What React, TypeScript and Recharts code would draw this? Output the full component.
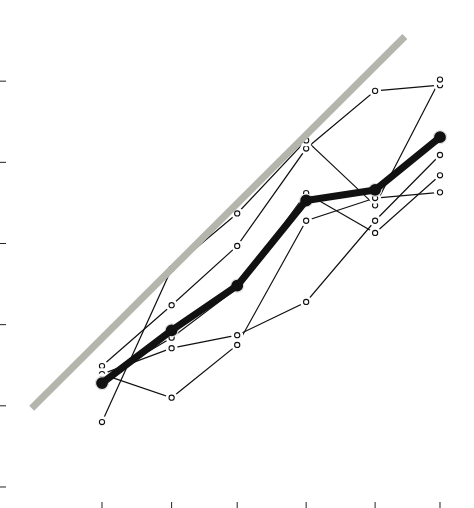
import React from 'react';
import { LineChart, Line, XAxis, YAxis } from 'recharts';

// x positions of the six sessions
const sessions = [1, 2.03, 3, 4.02, 5.04, 6];
const yTicks = [0, 1, 2, 3, 4, 5];

// individual subjects
const subjectA = [1.49, 2.24, 2.97, 4.17, 4.88, 4.95];
const subjectB = [0.8, 2.69, 3.37, 4.27, 3.47, 5.02];
const subjectC = [1.39, 1.1, 1.75, 3.28, 3.56, 3.63];
const subjectD = [1.39, 1.71, 1.87, 2.28, 3.28, 4.09];
const subjectE = [1.33, 1.84, 2.45, 3.62, 3.13, 3.84];
// group mean
const meanValues = [1.28, 1.93, 2.48, 3.53, 3.66, 4.31];

// reference diagonal
const refLineX = [-0.04, 5.48];
const refLineY = [0.97, 5.55];

const subjects = [
  { key: 'a', values: subjectA },
  { key: 'b', values: subjectB },
  { key: 'c', values: subjectC },
  { key: 'd', values: subjectD },
  { key: 'e', values: subjectE },
];

const data = sessions.map((x, i) => {
  const row: any = { x, mean: meanValues[i] };
  subjects.forEach(s => {
    row[s.key] = s.values[i];
  });
  return row;
});

const refData = refLineX.map((x, i) => ({ x, ref: refLineY[i] }));

const SmallDot = (props: any) => {
  const { cx, cy } = props;
  if (cx == null || cy == null) return <g />;
  return (
    <g>
      <circle cx={cx} cy={cy} r={6} fill="#fff" />
      <circle cx={cx} cy={cy} r={2.6} fill="#fff" stroke="#111" strokeWidth={1.1} />
    </g>
  );
};

const BigDot = (props: any) => {
  const { cx, cy } = props;
  if (cx == null || cy == null) return <g />;
  return <circle cx={cx} cy={cy} r={6.5} fill="#111" stroke="#e2e2e2" strokeWidth={1.2} />;
};

const NoLabel = () => <g />;

export default function App() {
  return (
    <div style={{ position: 'absolute', left: 0, top: 0, background: '#fff' }}>
      <LineChart
        width={474}
        height={508}
        data={data}
        margin={{ top: 0, right: 0, bottom: 0, left: 0 }}
      >
        <XAxis
          dataKey="x"
          type="number"
          domain={[-0.42, 6.503]}
          allowDataOverflow
          ticks={sessions}
          tick={NoLabel}
          axisLine={false}
          tickLine={{ stroke: '#222', strokeWidth: 1 }}
          tickSize={6}
          height={6}
        />
        <YAxis
          type="number"
          domain={[-0.185, 6]}
          allowDataOverflow
          ticks={yTicks}
          tick={NoLabel}
          axisLine={false}
          tickLine={{ stroke: '#222', strokeWidth: 1 }}
          tickSize={6}
          width={6}
        />
        {subjects.map(s => (
          <Line
            key={s.key}
            dataKey={s.key}
            type="linear"
            stroke="#111"
            strokeWidth={1.2}
            dot={<SmallDot />}
            activeDot={false}
            isAnimationActive={false}
          />
        ))}
        <Line
          data={refData}
          dataKey="ref"
          type="linear"
          stroke="#b4b5ad"
          strokeWidth={7}
          strokeLinecap="butt"
          dot={false}
          activeDot={false}
          zIndex={1500}
          isAnimationActive={false}
        />
        <Line
          dataKey="mean"
          type="linear"
          stroke="#111"
          strokeWidth={7}
          strokeLinejoin="round"
          dot={<BigDot />}
          activeDot={false}
          zIndex={1600}
          isAnimationActive={false}
        />
      </LineChart>
    </div>
  );
}
